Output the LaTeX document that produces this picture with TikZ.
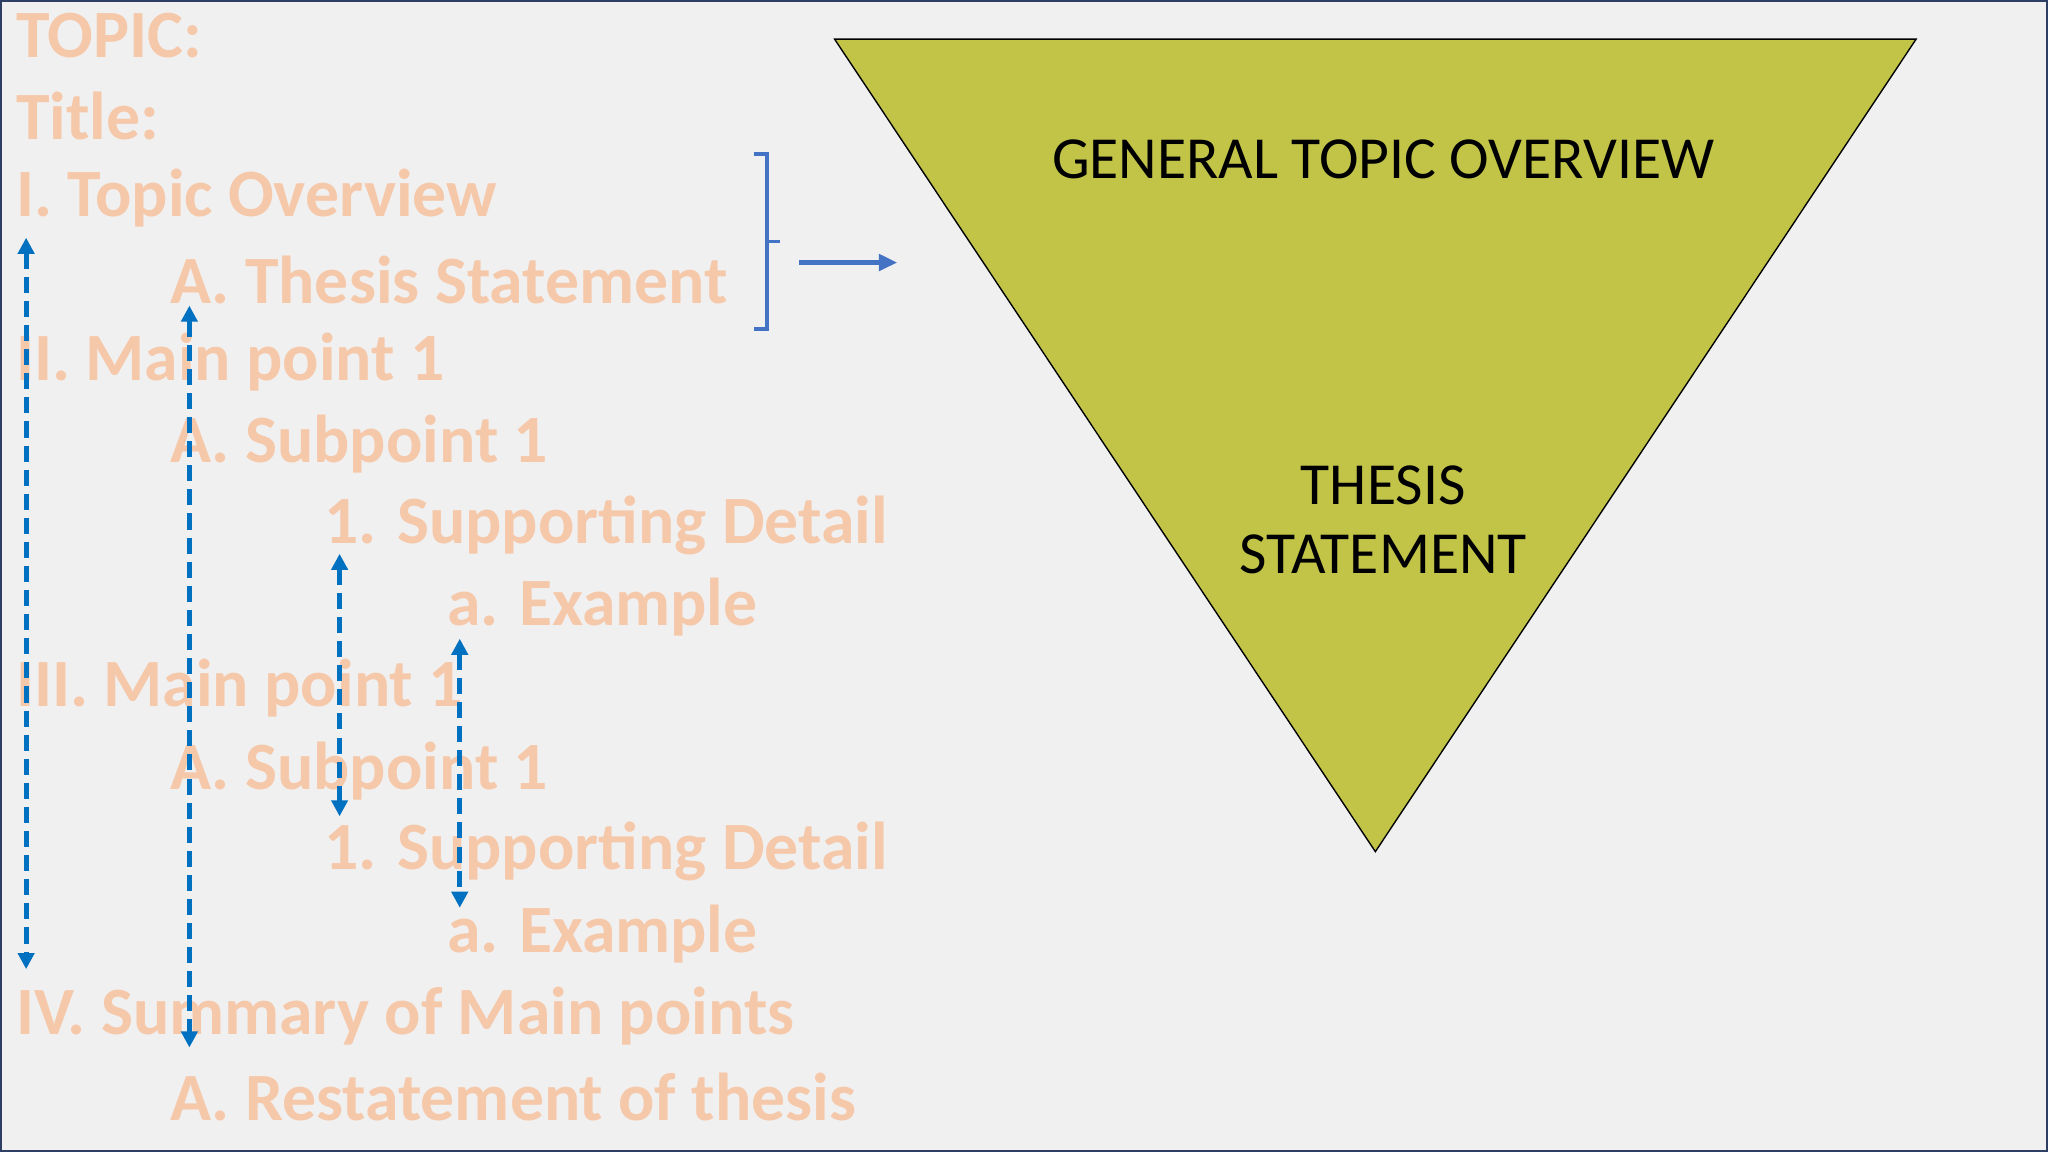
\documentclass[tikz,border=0pt]{standalone}
\usepackage{fontspec}
\setmainfont{Carlito}
\usetikzlibrary{arrows.meta}
\definecolor{bg}{RGB}{240,240,240}
\definecolor{outl}{RGB}{246,200,170}
\definecolor{tri}{RGB}{194,196,72}
\definecolor{brk}{RGB}{68,114,196}
\definecolor{dar}{RGB}{0,112,192}
\definecolor{frm}{RGB}{47,62,100}
\tikzset{
 ol/.style={anchor=west,text=outl,font=\fontsize{29.5}{32}\selectfont\bfseries,inner sep=0pt},
 tt/.style={font=\fontsize{26}{30}\selectfont,text=black,align=center},
 dd/.style={draw=dar,line width=2.2pt,dash pattern=on 7pt off 3.5pt,{Triangle[length=7pt,width=7pt]}-{Triangle[length=7pt,width=7pt]}}
}
\begin{document}
\begin{tikzpicture}[x=0.02cm,y=-0.02cm]
\fill[bg] (0,0) rectangle (1568,882);
\useasboundingbox (0,0) rectangle (1568,882);
\draw[frm,line width=0.8pt] (0.5,0.5) rectangle (1567.5,881.5);
\node[ol] (t0) at (12,27) {TOPIC:};
\node[ol] (t1) at (12,89) {Title:};
\node[ol] (t2) at (12,152) {I. Topic Overview};
\node[ol] (t3) at (130,214) {A. Thesis Statement};
\node[ol] (t4) at (12,277) {II. Main point 1};
\node[ol] (t5) at (130,340) {A. Subpoint 1};
\node[ol] (t6) at (248,402) {1. Supporting Detail};
\node[ol] (t7) at (342,465) {a. Example};
\node[ol] (t8) at (12,527) {III. Main point 1};
\node[ol] (t9) at (130,590) {A. Subpoint 1};
\node[ol] (t10) at (248,652) {1. Supporting Detail};
\node[ol] (t11) at (342,715) {a. Example};
\node[ol] (t12) at (12,778) {IV. Summary of Main points};
\node[ol] (t13) at (130,840) {A. Restatement of thesis};
\draw[draw=black,fill=tri,line width=0.6pt] (639,30) coordinate (ta) -- (1467,30) coordinate (tb) -- (1053,652) coordinate (tc) -- cycle;
\node[tt] (g) at (1059,122) {GENERAL TOPIC OVERVIEW};
\node[tt] (s) at (1059,398) {THESIS\\STATEMENT};
\draw[brk,line width=1.6pt] (577,118) -- (587,118) -- (587,252) -- (577,252);
\draw[brk,line width=1.6pt] (587,185) -- (597,185);
\coordinate (a1) at (612,201); \coordinate (a2) at (687,201);
\draw[brk,line width=2.2pt,-{Triangle[length=8pt,width=7pt]}] (a1) -- (a2);
\coordinate (d1a) at (20,182); \coordinate (d1b) at (20,742);
\coordinate (d2a) at (145,234); \coordinate (d2b) at (145,802);
\coordinate (d3a) at (260,424); \coordinate (d3b) at (260,625);
\coordinate (d4a) at (352,489); \coordinate (d4b) at (352,695);
\draw[dd] (d1a) -- (d1b);
\draw[dd] (d2a) -- (d2b);
\draw[dd] (d3a) -- (d3b);
\draw[dd] (d4a) -- (d4b);
\end{tikzpicture}
\end{document}
